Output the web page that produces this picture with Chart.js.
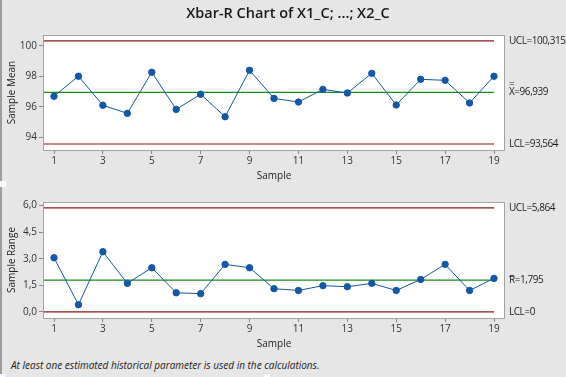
<!DOCTYPE html>
<html>
<head>
<meta charset="utf-8">
<script src="https://cdn.jsdelivr.net/npm/chart.js@4.4.1/dist/chart.umd.min.js"></script>
<style>
body { margin: 0; background: #e6e6e6; }
#wrap { position: relative; width: 566px; height: 377px; background: #e6e6e6; overflow: hidden; font-family: "Open Sans", "Noto Sans", sans-serif; }
#title { position: absolute; left: 0; width: 576px; top: 3px; text-align: center; font-size: 14.5px; font-weight: 600; color: #1a1a1a; }
#note { position: absolute; left: 11px; top: 358px; font-size: 10px; font-style: italic; color: #222; }
canvas { position: absolute; left: 0; }
#c1 { top: 0; }
#c2 { top: 185px; }
.edge { position: absolute; left: 0; top: 0; width: 2px; height: 377px; background: #9c9c9c; }
.dot { position: absolute; background: #fff; }
</style>
</head>
<body>
<div id="wrap">
  <div class="edge"></div>
  <canvas id="c1" width="566" height="185"></canvas>
  <canvas id="c2" width="566" height="168"></canvas>
  <div id="title">Xbar-R Chart of X1_C; ...; X2_C</div>
  <div id="note">At least one estimated historical parameter is used in the calculations.</div>
  <div class="dot" style="left:0;top:181px;width:6px;height:6px"></div>
  <div class="dot" style="left:0;top:374px;width:5px;height:3px"></div>
  <div class="dot" style="left:264px;top:374px;width:6px;height:3px"></div>
</div>
<script>
// サンプル番号
var samples = [1, 2, 3, 4, 5, 6, 7, 8, 9, 10, 11, 12, 13, 14, 15, 16, 17, 18, 19];
// 平均 (Xbar)
var sampleMean = [96.69, 98.0, 96.1, 95.57, 98.26, 95.83, 96.82, 95.35, 98.39, 96.55,
                  96.31, 97.14, 96.9, 98.19, 96.12, 97.8, 97.73, 96.25, 98.0];
// 範囲 (R)
var sampleRange = [3.05, 0.41, 3.39, 1.61, 2.49, 1.08, 1.03, 2.68, 2.49, 1.31,
                   1.21, 1.48, 1.42, 1.61, 1.21, 1.83, 2.68, 1.21, 1.89];
// 管理限界
var meanLimits = [100.315, 96.939, 93.564];   // UCL, CL, LCL
var rangeLimits = [5.864, 1.795, 0];
var meanLimitLabels = ["UCL=100,315", "X=96,939", "LCL=93,564"];
var rangeLimitLabels = ["UCL=5,864", "R=1,795", "LCL=0"];
// 目盛り
var xTicks = [1, 3, 5, 7, 9, 11, 13, 15, 17, 19];
var meanTicks = [94, 96, 98, 100];
var meanTickLabels = ["94", "96", "98", "100"];
var rangeTicks = [0, 1.5, 3, 4.5, 6];
var rangeTickLabels = ["0,0", "1,5", "3,0", "4,5", "6,0"];

var FONT = "'Open Sans', 'Noto Sans', sans-serif";
var RED = "#8e1616";
var GREEN = "#1b8a1b";
var BLUE = "#1457a3";
var xMin = 0.55, xMax = 19.45;

// 枠と右側ラベル
var framePlugin = {
    id: "frame",
    beforeDraw: function(chart) {
        var a = chart.chartArea, ctx = chart.ctx;
        ctx.save();
        ctx.fillStyle = "#fff";
        ctx.fillRect(a.left, a.top, a.right - a.left, a.bottom - a.top);
        ctx.restore();
    },
    afterDraw: function(chart, args, opts) {
        var a = chart.chartArea, ctx = chart.ctx;
        var ys = chart.scales.y;
        ctx.save();
        ctx.strokeStyle = "#a3a3a3";
        ctx.lineWidth = 1;
        ctx.strokeRect(a.left + 0.5, a.top + 0.5, a.right - a.left - 1, a.bottom - a.top);
        ctx.font = "10px " + FONT;
        ctx.letterSpacing = "-0.45px";
        ctx.fillStyle = "#222";
        ctx.textBaseline = "middle";
        ctx.textAlign = "left";
        for (var i = 0; i < opts.values.length; i++) {
            var y = ys.getPixelForValue(opts.values[i]);
            var x = a.right + 4;
            ctx.fillText(opts.labels[i], x, y);
            if (i == 1) {
                // バー記号
                ctx.fillText(opts.bar, x, y - 8);
            }
        }
        ctx.restore();
    }
};

function limitLine(v, color, ord) {
    return {
        data: [{x: xMin, y: v}, {x: 19, y: v}],
        borderColor: color, borderWidth: 1.2, pointRadius: 0, order: ord
    };
}

function makeChart(id, values, limits, limitLabels, bar, yMin, yMax, yTicks, yTickLabels, yTitle, padTop) {
    var pts = samples.map(function(s, i) { return {x: s, y: values[i]}; });
    return new Chart(document.getElementById(id), {
        type: "line",
        data: {
            datasets: [
                {
                    data: pts,
                    borderColor: BLUE, borderWidth: 1,
                    pointBackgroundColor: BLUE, pointBorderColor: BLUE,
                    pointRadius: 3.2, order: 0
                },
                limitLine(limits[0], RED, 2),
                limitLine(limits[1], GREEN, 1),
                limitLine(limits[2], RED, 2)
            ]
        },
        options: {
            responsive: false,
            animation: false,
            devicePixelRatio: 1,
            layout: { padding: { top: padTop, right: 61, left: 0, bottom: 0 } },
            plugins: {
                legend: { display: false },
                tooltip: { enabled: false },
                frame: { values: limits, labels: limitLabels, bar: bar }
            },
            scales: {
                x: {
                    type: "linear", min: xMin, max: xMax,
                    afterBuildTicks: function(s) { s.ticks = xTicks.map(function(v) { return {value: v}; }); },
                    ticks: { font: { size: 10, family: FONT }, color: "#333", padding: 1, maxRotation: 0, autoSkip: false,
                             callback: function(v) { return String(v); } },
                    grid: { drawOnChartArea: false, drawTicks: true, tickLength: 4, color: "#8a8a8a" },
                    border: { display: false },
                    title: { display: true, text: "Sample", font: { size: 10, family: FONT }, color: "#222",
                             padding: { top: 0, bottom: 3 } },
                    afterFit: function(s) { s.height = 35; }
                },
                y: {
                    min: yMin, max: yMax,
                    afterBuildTicks: function(s) { s.ticks = yTicks.map(function(v) { return {value: v}; }); },
                    ticks: { font: { size: 10, family: FONT }, color: "#333", padding: 2,
                             callback: function(v) { return yTickLabels[yTicks.indexOf(v)]; } },
                    grid: { drawOnChartArea: false, drawTicks: true, tickLength: 4, color: "#8a8a8a" },
                    border: { display: false },
                    title: { display: true, text: yTitle, font: { size: 10, family: FONT }, color: "#222",
                             padding: { top: 6, bottom: 0 } },
                    afterFit: function(s) { s.width = 43; }
                }
            }
        },
        plugins: [framePlugin]
    });
}

makeChart("c1", sampleMean, meanLimits, meanLimitLabels, "=", 93.17, 100.70, meanTicks, meanTickLabels, "Sample Mean", 35);
makeChart("c2", sampleRange, rangeLimits, rangeLimitLabels, "_", -0.34, 6.19, rangeTicks, rangeTickLabels, "Sample Range", 17);
</script>
</body>
</html>
